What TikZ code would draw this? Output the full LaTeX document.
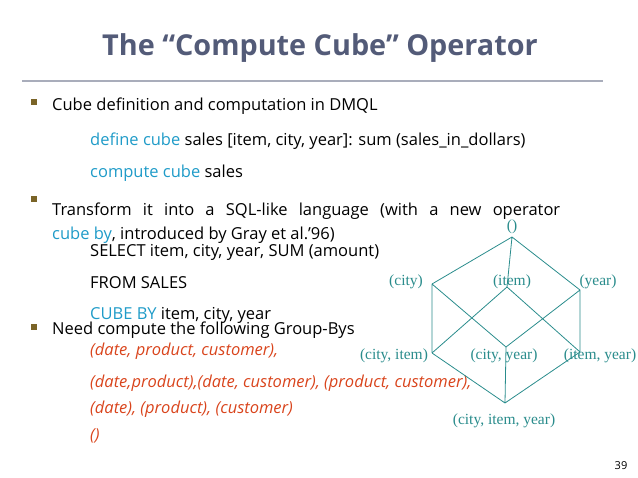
\documentclass[tikz,border=0pt]{standalone}
\usepackage{fontspec}
\setmainfont{Open Sans}
\newfontfamily\latfont{Liberation Serif}
\definecolor{ttl}{HTML}{535B78}
\definecolor{kw}{HTML}{1F9BC8}
\definecolor{rd}{HTML}{D9441C}
\definecolor{tl}{HTML}{2A8C8C}
\definecolor{bul}{HTML}{7A6428}
\tikzset{
 txt/.style={anchor=base west,inner sep=0,font=\fontsize{16.5}{20}\selectfont},
 red/.style={txt,text=rd,font=\fontsize{16.5}{20}\selectfont\itshape},
 lab/.style={inner sep=0,text=tl,font=\latfont\fontsize{15.5}{18}\selectfont},
 bulletsq/.style={fill=bul,minimum size=6pt,inner sep=0},
 edge/.style={draw=tl,line width=0.8pt}
}
\begin{document}
\begin{tikzpicture}[x=1pt,y=-1pt]
\useasboundingbox (0,0) rectangle (638,478);
\node[inner sep=0,text=ttl,font=\bfseries\fontsize{28.8}{32}\selectfont] (title) at (320,48) {The “Compute Cube” Operator};
\draw[line width=2pt,color=ttl!50] (22,81) -- (603,81);
\node[bulletsq] (b1) at (34,102) {};
\node[bulletsq] (b2) at (34,199) {};
\node[bulletsq] (b3) at (34,327) {};
\node[txt] (l1) at (52,111) {Cube definition and computation in DMQL};
\node[txt] (l2) at (90,146) {\textcolor{kw}{define cube} sales [item, city, year]: sum (sales\_in\_dollars)};
\node[txt] (l3) at (90,178) {\textcolor{kw}{compute cube} sales};
\node[anchor=base west,inner sep=0,text width=508pt,align=justify,font=\fontsize{16.5}{24}\selectfont] (l4) at (52,216) {Transform it into a SQL-like language (with a new operator\linebreak \textcolor{kw}{cube by}, introduced by Gray et al.’96)};
\node[txt] (l5) at (90,257) {SELECT item, city, year, SUM (amount)};
\node[txt] (l6) at (90,289) {FROM SALES};
\node[txt] (l7) at (90,320) {\textcolor{kw}{CUBE BY} item, city, year};
\node[txt] (l8) at (52,335) {Need compute the following Group-Bys};
\node[red] (r1) at (90,356) {(date, product, customer),};
\node[red] (r2) at (90,388) {(date,product),(date, customer), (product, customer),};
\node[red] (r3) at (90,414) {(date), (product), (customer)};
\node[red] (r4) at (90,441) {()};
% lattice
\coordinate (p0) at (512,237);
\coordinate (pc) at (432,284);
\coordinate (pi) at (507,287);
\coordinate (py) at (580,290);
\coordinate (pci) at (432,353);
\coordinate (pcy) at (506,347);
\coordinate (piy) at (580,352);
\coordinate (pall) at (505,403);
\draw[edge] (p0)--(pc) (p0)--(pi) (p0)--(py);
\draw[edge] (pc)--(pci) (pc)--(pcy) (pi)--(pci) (pi)--(piy) (py)--(pcy) (py)--(piy);
\draw[edge] (pci)--(pall) (pcy)--(pall) (piy)--(pall);
\node[lab] (n0) at (512,227) {()};
\node[lab] (nc) at (406,282) {(city)};
\node[lab] (ni) at (512,282) {(item)};
\node[lab] (ny) at (598,282) {(year)};
\node[lab] (nci) at (394,356) {(city, item)};
\node[lab] (ncy) at (504,356) {(city, year)};
\node[lab] (niy) at (600,356) {(item, year)};
\node[lab] (nall) at (504,421) {(city, item, year)};
\node[inner sep=0,font=\fontsize{11}{13}\selectfont] (pg) at (621,466) {39};
\end{tikzpicture}
\end{document}
